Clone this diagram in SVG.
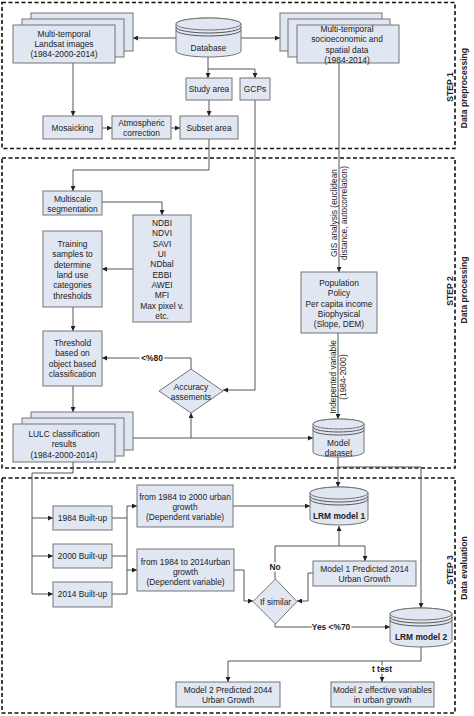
<svg xmlns="http://www.w3.org/2000/svg" width="474" height="716" viewBox="0 0 474 716">
<style>
text{font-family:"Liberation Sans",Arial,sans-serif;font-size:8.4px;fill:#222;text-anchor:middle}
.b{font-weight:bold}
.box{fill:#e0e7f2;stroke:#747474;stroke-width:1}
.step{fill:none;stroke:#111;stroke-width:1.6;stroke-dasharray:4 2.5}
.c{fill:none;stroke:#555;stroke-width:1}
.ca{fill:none;stroke:#555;stroke-width:1;marker-end:url(#a)}
.lbl{font-weight:bold;stroke:#fff;stroke-width:3;paint-order:stroke}
.st{font-weight:bold;font-size:8.6px}
</style>
<defs>
<marker id="a" viewBox="0 0 6 6" refX="6" refY="3" markerWidth="5" markerHeight="5" orient="auto" markerUnits="userSpaceOnUse"><path d="M0,0 L6,3 L0,6 z" fill="#222"/></marker>
</defs>
<rect width="474" height="716" fill="#fff"/>
<g id="steps">
<rect class="step" x="2" y="2.5" width="453" height="146"/>
<rect class="step" x="2" y="158" width="453" height="310"/>
<rect class="step" x="2" y="478" width="453" height="235"/>
<text class="st" transform="translate(453,87) rotate(-90)">STEP 1</text>
<text class="st" transform="translate(467,88) rotate(-90)">Data preprocessing</text>
<text class="st" transform="translate(453,291) rotate(-90)">STEP 2</text>
<text class="st" transform="translate(467,290) rotate(-90)">Data processing</text>
<text class="st" transform="translate(453,570) rotate(-90)">STEP 3</text>
<text class="st" transform="translate(467,568) rotate(-90)">Data evaluation</text>
</g>
<g id="connectors">
<path class="ca" d="M176,38 H133"/>
<path class="ca" d="M241,38 H280"/>
<path class="ca" d="M208,57 V78"/>
<path class="ca" d="M208,69 H255 V78"/>
<path class="ca" d="M73,63 V116"/>
<path class="ca" d="M102,128 H112"/>
<path class="ca" d="M171,128 H180"/>
<path class="ca" d="M209,100 V116"/>
<path class="ca" d="M209,139 V170 H73 V191"/>
<path class="ca" d="M102,202 H162 V215"/>
<path class="ca" d="M133,269 H102"/>
<path class="ca" d="M73,307 V331"/>
<path class="ca" d="M73,386 V412"/>
<path class="ca" d="M191,369 V358 H102"/>
<path class="ca" d="M255,100 V390 H223"/>
<path class="ca" d="M133,438 H313"/>
<path class="ca" d="M191,438 V413"/>
<path class="ca" d="M339,63 V272"/>
<path class="ca" d="M338,333 V419"/>
<path class="c" d="M73,462 V473 H32 V594"/>
<path class="ca" d="M32,518 H53"/>
<path class="ca" d="M32,556 H53"/>
<path class="ca" d="M32,594 H53"/>
<path class="c" d="M112,518 H127 M112,556 H127 M112,594 H127 M127,506 V594"/>
<path class="ca" d="M127,506 H137"/>
<path class="ca" d="M127,570 H137"/>
<path class="ca" d="M233,506 H310"/>
<path class="ca" d="M234,570 H244 V601 H253"/>
<path class="ca" d="M338,457 V487"/>
<path class="ca" d="M338,467 H421 V608"/>
<path class="ca" d="M275,579 V546 H339 V526"/>
<path class="ca" d="M339,546 H365 V561"/>
<path class="ca" d="M313,573 H308 V601 H297"/>
<path class="ca" d="M275,624 V627 H390"/>
<path class="ca" d="M421,647 V661 H228 V682"/>
<path class="ca" d="M382,661 V682"/>
<text class="lbl" x="152" y="361">&lt;%80</text>
<text class="lbl" x="275" y="570">No</text>
<text class="lbl" x="331" y="630">Yes &lt;%70</text>
<text class="lbl" x="382" y="672">t test</text>
<text transform="translate(339,213) rotate(-90)" y="-2">GIS analysis (euclidean</text>
<text transform="translate(339,213) rotate(-90)" y="8">distance, autocorrelation)</text>
<text transform="translate(338,377) rotate(-90)" y="-2">Indepented variable</text>
<text transform="translate(338,377) rotate(-90)" y="8">(1984-2000)</text>
</g>
<g id="landsat">
<rect class="box" x="31" y="13" width="102" height="38"/>
<rect class="box" x="22" y="19" width="102" height="38"/>
<rect class="box" x="13" y="25" width="102" height="38"/>
<text x="64" y="37">Multi-temporal</text>
<text x="64" y="47">Landsat images</text>
<text x="64" y="57">(1984-2000-2014)</text>
</g>
<g id="database">
<path class="box" d="M176,24 A32.5,6 0 0 1 241,24 V51 A32.5,6 0 0 1 176,51 Z"/>
<ellipse class="box" cx="208.5" cy="24" rx="32.5" ry="6"/>
<path class="c" d="M176,27 A32.5,6 0 0 0 241,27 M176,30 A32.5,6 0 0 0 241,30" stroke="#747474"/>
<text x="208.5" y="51">Database</text>
</g>
<g id="socio">
<rect class="box" x="280" y="13" width="102" height="38"/>
<rect class="box" x="288" y="19" width="102" height="38"/>
<rect class="box" x="297" y="25" width="102" height="38"/>
<text x="347" y="31.5">Multi-temporal</text>
<text x="347" y="42">socioeconomic and</text>
<text x="347" y="52.5">spatial data</text>
<text x="347" y="63">(1984-2014)</text>
</g>
<g id="study">
<rect class="box" x="186" y="78" width="46" height="22"/>
<text x="209" y="92">Study area</text>
</g>
<g id="gcps">
<rect class="box" x="240" y="78" width="30" height="22"/>
<text x="255" y="92">GCPs</text>
</g>
<g id="mosaic">
<rect class="box" x="43" y="116" width="59" height="23"/>
<text x="72.5" y="131">Mosaicking</text>
</g>
<g id="atmos">
<rect class="box" x="112" y="116" width="59" height="23"/>
<text x="141.5" y="126">Atmospheric</text>
<text x="141.5" y="136">correction</text>
</g>
<g id="subset">
<rect class="box" x="180" y="116" width="58" height="23"/>
<text x="209" y="131">Subset area</text>
</g>
<g id="multiscale">
<rect class="box" x="43" y="191" width="59" height="24"/>
<text x="72.5" y="202">Multiscale</text>
<text x="72.5" y="212">segmentation</text>
</g>
<g id="indices">
<rect class="box" x="133" y="215" width="58" height="107"/>
<text x="162" y="226">NDBI</text>
<text x="162" y="236.3">NDVI</text>
<text x="162" y="246.7">SAVI</text>
<text x="162" y="257">UI</text>
<text x="162" y="267.3">NDbal</text>
<text x="162" y="277.7">EBBI</text>
<text x="162" y="288">AWEI</text>
<text x="162" y="298.3">MFI</text>
<text x="162" y="308.7">Max pixel v.</text>
<text x="162" y="319">etc.</text>
</g>
<g id="training">
<rect class="box" x="43" y="231" width="59" height="76"/>
<text x="72.5" y="247">Training</text>
<text x="72.5" y="257.3">samples to</text>
<text x="72.5" y="267.7">determine</text>
<text x="72.5" y="278">land use</text>
<text x="72.5" y="288.3">categories</text>
<text x="72.5" y="298.7">thresholds</text>
</g>
<g id="threshold">
<rect class="box" x="43" y="331" width="59" height="55"/>
<text x="72.5" y="346">Threshold</text>
<text x="72.5" y="356.3">based on</text>
<text x="72.5" y="366.7">object based</text>
<text x="72.5" y="377">classification</text>
</g>
<g id="accuracy">
<polygon class="box" points="191,369 223,391 191,413 159,391"/>
<text x="191" y="390">Accuracy</text>
<text x="191" y="400">assements</text>
</g>
<g id="lulc">
<rect class="box" x="31" y="412" width="102" height="38"/>
<rect class="box" x="22" y="418" width="102" height="38"/>
<rect class="box" x="13" y="424" width="102" height="38"/>
<text x="64" y="437">LULC classification</text>
<text x="64" y="447">results</text>
<text x="64" y="458">(1984-2000-2014)</text>
</g>
<g id="population">
<rect class="box" x="301" y="272" width="76" height="61"/>
<text x="339" y="286">Population</text>
<text x="339" y="296.3">Policy</text>
<text x="339" y="306.7">Per capita income</text>
<text x="339" y="317">Biophysical</text>
<text x="339" y="327">(Slope, DEM)</text>
</g>
<g id="modeldataset">
<path class="box" d="M313,424 A25.5,5 0 0 1 364,424 V452 A25.5,5 0 0 1 313,452 Z"/>
<ellipse class="box" cx="338.5" cy="424" rx="25.5" ry="5"/>
<path class="c" d="M313,427 A25.5,5 0 0 0 364,427 M313,430 A25.5,5 0 0 0 364,430" stroke="#747474"/>
<text x="338.5" y="446">Model</text>
<text x="338.5" y="456">dataset</text>
</g>
<g id="b1984">
<rect class="box" x="53" y="506" width="59" height="24"/>
<text x="82.5" y="521">1984 Built-up</text>
</g>
<g id="b2000">
<rect class="box" x="53" y="544" width="59" height="24"/>
<text x="82.5" y="559">2000 Built-up</text>
</g>
<g id="b2014">
<rect class="box" x="53" y="582" width="59" height="25"/>
<text x="82.5" y="597">2014 Built-up</text>
</g>
<g id="g1984_2000">
<rect class="box" x="137" y="485" width="96" height="42"/>
<text x="185" y="500">from 1984 to 2000 urban</text>
<text x="185" y="510">growth</text>
<text x="185" y="520">(Dependent variable)</text>
</g>
<g id="g1984_2014">
<rect class="box" x="137" y="549" width="97" height="42"/>
<text x="185.5" y="565">from 1984 to 2014urban</text>
<text x="185.5" y="575">growth</text>
<text x="185.5" y="585">(Dependent variable)</text>
</g>
<g id="lrm1">
<path class="box" d="M310,493 A29,6 0 0 1 368,493 V519 A29,6 0 0 1 310,519 Z"/>
<ellipse class="box" cx="339" cy="493" rx="29" ry="6"/>
<path class="c" d="M310,496 A29,6 0 0 0 368,496 M310,499 A29,6 0 0 0 368,499" stroke="#747474"/>
<text class="b" x="339" y="519">LRM model 1</text>
</g>
<g id="ifsimilar">
<polygon class="box" points="275.5,579 297,601.5 275.5,624 253,601.5"/>
<text x="275.5" y="604.5">If similar</text>
</g>
<g id="m1pred">
<rect class="box" x="313" y="561" width="103" height="25"/>
<text x="364.5" y="572">Model 1 Predicted 2014</text>
<text x="364.5" y="582">Urban Growth</text>
</g>
<g id="lrm2">
<path class="box" d="M390,614 A31,6 0 0 1 452,614 V641 A31,6 0 0 1 390,641 Z"/>
<ellipse class="box" cx="421" cy="614" rx="31" ry="6"/>
<path class="c" d="M390,617 A31,6 0 0 0 452,617 M390,620 A31,6 0 0 0 452,620" stroke="#747474"/>
<text class="b" x="421" y="640">LRM model 2</text>
</g>
<g id="m2pred">
<rect class="box" x="176" y="682" width="104" height="25"/>
<text x="228" y="693">Model 2 Predicted 2044</text>
<text x="228" y="703">Urban Growth</text>
</g>
<g id="m2eff">
<rect class="box" x="331" y="682" width="103" height="25"/>
<text x="382.5" y="693">Model 2 effective variables</text>
<text x="382.5" y="703">in urban growth</text>
</g>
</svg>
